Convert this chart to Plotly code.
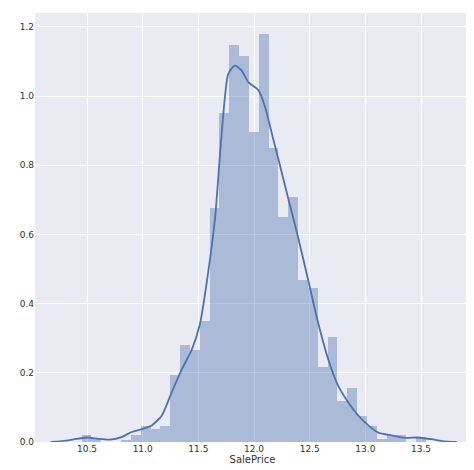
import numpy as np
import plotly.graph_objects as go

bin_start = 10.452
bin_width = 0.08836
densities = [0.021, 0.013, 0, 0, 0.005, 0.02, 0.047, 0.038, 0.047, 0.195,
             0.28, 0.265, 0.35, 0.677, 0.951, 1.147, 1.115, 0.897, 1.179, 0.85,
             0.649, 0.709, 0.468, 0.445, 0.217, 0.304, 0.118, 0.156, 0.075, 0.045,
             0.009, 0.021, 0.021, 0, 0.014]
kde_x = [10.174, 10.332, 10.5, 10.602, 10.707, 10.811, 10.901, 11.0, 11.081, 11.171,
         11.26, 11.35, 11.44, 11.515, 11.59, 11.65, 11.71, 11.769, 11.829, 11.889,
         11.949, 12.039, 12.099, 12.159, 12.219, 12.308, 12.398, 12.488, 12.578, 12.668,
         12.757, 12.847, 12.937, 13.027, 13.117, 13.237, 13.356, 13.476, 13.596, 13.716, 13.82]
kde_y = [0, 0.005, 0.013, 0.009, 0.007, 0.014, 0.029, 0.038, 0.048, 0.076,
         0.143, 0.209, 0.266, 0.342, 0.494, 0.646, 0.893, 1.064, 1.088, 1.074,
         1.04, 1.017, 0.969, 0.893, 0.817, 0.703, 0.589, 0.466, 0.342, 0.238,
         0.162, 0.114, 0.076, 0.048, 0.027, 0.019, 0.012, 0.013, 0.008, 0.002, 0]
x_ticks = [10.5, 11.0, 11.5, 12.0, 12.5, 13.0, 13.5]
y_ticks = [0.0, 0.2, 0.4, 0.6, 0.8, 1.0, 1.2]

centers = [bin_start + bin_width * (i + 0.5) for i in range(len(densities))]

fig = go.Figure()
fig.add_trace(go.Bar(x=centers, y=densities, width=bin_width,
                     marker=dict(color="rgba(76,114,176,0.4)", line=dict(width=0)),
                     hoverinfo="skip"))
fig.add_trace(go.Scatter(x=kde_x, y=kde_y, mode="lines",
                         line=dict(color="#4c72b0", width=1.8, shape="spline", smoothing=0.6)))
fig.update_layout(
    width=474, height=470, showlegend=False, bargap=0,
    paper_bgcolor="white", plot_bgcolor="#eaeaf2",
    margin=dict(l=27, r=12, t=5, b=36),
    font=dict(family="DejaVu Sans", size=9, color="#333333"),
    xaxis=dict(range=[10.033, 13.94], tickvals=x_ticks, ticktext=[f"{v:.1f}" for v in x_ticks],
               showgrid=True, gridcolor="white", gridwidth=1, zeroline=False,
               title=dict(text="SalePrice", font=dict(size=10), standoff=2), ticks=""),
    yaxis=dict(range=[0, 1.24], tickvals=y_ticks, ticktext=[f"{v:.1f}" for v in y_ticks],
               showgrid=True, gridcolor="white", gridwidth=1, zeroline=False, ticks=""),
)
fig.write_html("out.html")
